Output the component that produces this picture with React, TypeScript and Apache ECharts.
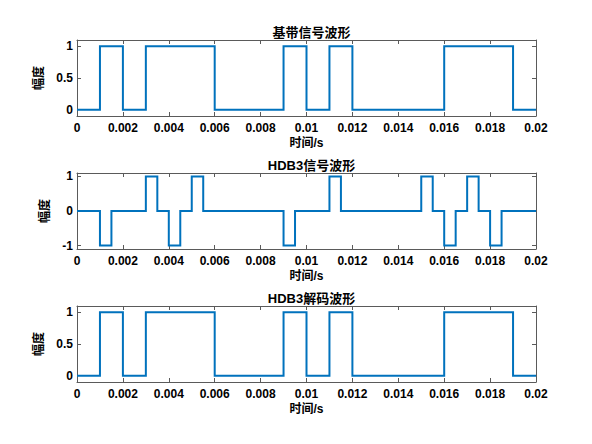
import React, { useEffect, useRef } from "react";
import * as echarts from "echarts";

const bitPeriod = 0.001;
const baseBits = [0, 1, 0, 1, 1, 1, 0, 0, 0, 1, 0, 1, 0, 0, 0, 0, 1, 1, 1, 0];
const hdb3Symbols = [0, -1, 0, 1, -1, 1, 0, 0, 0, -1, 0, 1, 0, 0, 0, 1, -1, 1, -1, 0];
const decodedBits = [0, 1, 0, 1, 1, 1, 0, 0, 0, 1, 0, 1, 0, 0, 0, 0, 1, 1, 1, 0];
const titles = ["基带信号波形", "HDB3信号波形", "HDB3解码波形"];
const xTicks = [0, 0.002, 0.004, 0.006, 0.008, 0.01, 0.012, 0.014, 0.016, 0.018, 0.02];
const yTicksUni = [0, 0.5, 1];
const yTicksBi = [-1, 0, 1];

function nrzPoints(bits: number[]) {
  const pts: number[][] = [];
  bits.forEach((b, i) => {
    pts.push([i * bitPeriod, b]);
    pts.push([(i + 1) * bitPeriod, b]);
  });
  return pts;
}
function rzPoints(syms: number[]) {
  const pts: number[][] = [];
  syms.forEach((s, i) => {
    pts.push([i * bitPeriod, s]);
    pts.push([(i + 0.5) * bitPeriod, s]);
    pts.push([(i + 0.5) * bitPeriod, 0]);
    pts.push([(i + 1) * bitPeriod, 0]);
  });
  return pts;
}

const FONT = "'Liberation Sans', 'Noto Sans CJK SC', sans-serif";
const AXC = "#5a5a5a";

export default function App() {
  const ref = useRef<HTMLDivElement>(null);
  useEffect(() => {
    document.body.style.margin = "0";
    const chart = echarts.init(ref.current!, null, { renderer: "svg" });
    const grids = [
      { left: 77, top: 40, width: 459, height: 76 },
      { left: 77, top: 173, width: 459, height: 76 },
      { left: 77, top: 306, width: 459, height: 76 },
    ];
    const yRanges = [
      { min: -0.1, max: 1.1, ticks: yTicksUni, gap: 30 },
      { min: -1.1, max: 1.1, ticks: yTicksBi, gap: 24 },
      { min: -0.1, max: 1.1, ticks: yTicksUni, gap: 30 },
    ];
    const datas = [nrzPoints(baseBits), rzPoints(hdb3Symbols), nrzPoints(decodedBits)];
    const xAxis: any[] = [];
    const yAxis: any[] = [];
    const series: any[] = [];
    const title: any[] = [];
    grids.forEach((g, i) => {
      const common = {
        gridIndex: i,
        type: "value",
        min: 0,
        max: 0.02,
        interval: 0.002,
        splitLine: { show: false },
        axisLine: { show: true, onZero: false, lineStyle: { color: AXC, width: 1 } },
        axisTick: { show: true, inside: true, length: 4, lineStyle: { color: AXC } },
      };
      xAxis.push({
        ...common,
        position: "bottom",
        name: "时间/s",
        nameLocation: "middle",
        nameGap: 21,
        nameTextStyle: { fontFamily: FONT, fontWeight: "bold", fontSize: 12, color: "#000" },
        axisLabel: {
          margin: 6,
          fontFamily: FONT,
          fontWeight: "bold",
          fontSize: 12,
          color: "#000",
          formatter: (v: number) => String(parseFloat(v.toFixed(4))),
          customValues: xTicks,
        },
      });
      xAxis.push({ ...common, position: "top", axisLabel: { show: false } });
      const r = yRanges[i];
      const ycommon = {
        gridIndex: i,
        type: "value",
        min: r.min,
        max: r.max,
        splitLine: { show: false },
        axisLine: { show: true, onZero: false, lineStyle: { color: AXC, width: 1 } },
        axisTick: { show: true, inside: true, length: 4, customValues: r.ticks, lineStyle: { color: AXC } },
      };
      yAxis.push({
        ...ycommon,
        position: "left",
        name: "幅度",
        nameLocation: "middle",
        nameRotate: 90,
        nameGap: r.gap,
        nameTextStyle: { fontFamily: FONT, fontWeight: "bold", fontSize: 12, color: "#000" },
        axisLabel: {
          margin: 4,
          fontFamily: FONT,
          fontWeight: "bold",
          fontSize: 12,
          color: "#000",
          customValues: r.ticks,
        },
      });
      yAxis.push({ ...ycommon, position: "right", axisLabel: { show: false } });
      series.push({
        type: "line",
        xAxisIndex: i * 2,
        yAxisIndex: i * 2,
        data: datas[i],
        showSymbol: false,
        lineStyle: { color: "#0072BD", width: 2, join: "miter" },
        clip: true,
      });
      title.push({
        text: titles[i],
        left: 306.5,
        top: g.top - 19,
        textAlign: "center",
        textStyle: { fontFamily: FONT, fontWeight: "bold", fontSize: 13, color: "#000" },
      });
    });
    chart.setOption({
      animation: false,
      backgroundColor: "#fff",
      title,
      grid: grids,
      xAxis,
      yAxis,
      series,
    });
    return () => chart.dispose();
  }, []);
  return <div ref={ref} style={{ width: 592, height: 444 }} />;
}
